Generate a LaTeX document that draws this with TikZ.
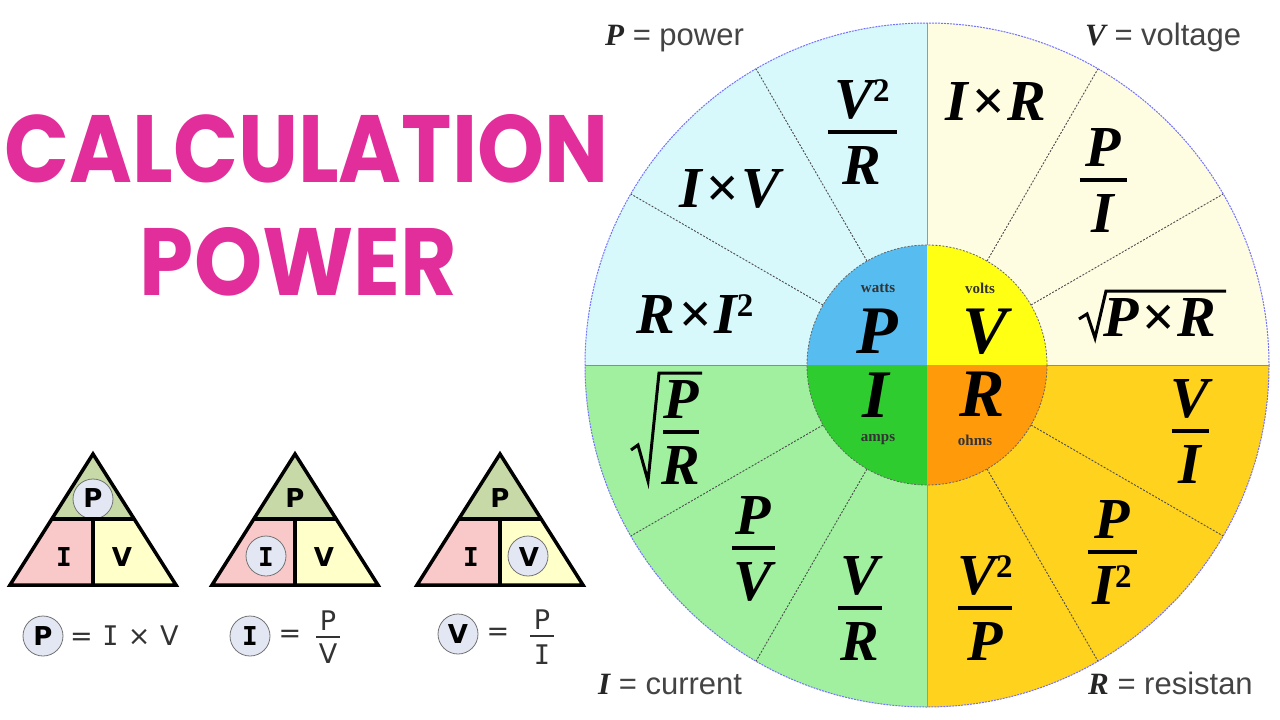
\documentclass[tikz,border=0pt]{standalone}
\usepackage{fontspec}
\usepackage{graphicx}
\setmainfont{Liberation Serif}
\newfontfamily\titlefont{Poppins}
\newfontfamily\labfont{Liberation Sans}
\newfontfamily\dvs{DejaVu Sans}
\newfontfamily\dvm{DejaVu Sans Mono}
\definecolor{titlec}{HTML}{E22E9B}
\definecolor{qP}{HTML}{D8F9FC}
\definecolor{qV}{HTML}{FFFDE1}
\definecolor{qI}{HTML}{A0F0A0}
\definecolor{qR}{HTML}{FFD21E}
\definecolor{cP}{HTML}{57BCEF}
\definecolor{cV}{HTML}{FFFF14}
\definecolor{cI}{HTML}{2ECC2E}
\definecolor{cR}{HTML}{FF9A0A}
\definecolor{tG}{HTML}{C6D9A6}
\definecolor{tPk}{HTML}{F9C9C9}
\definecolor{tY}{HTML}{FFFFC9}
\definecolor{hl}{HTML}{E3E7F3}
\definecolor{labg}{HTML}{444444}
\definecolor{eqg}{HTML}{333333}
\newcommand\sqr{\raisebox{17pt}{\fontsize{33}{33}\selectfont\upshape 2}}
\tikzset{
  fml/.style={inner sep=0pt, font=\fontsize{58}{60}\selectfont\bfseries\itshape},
  big/.style={inner sep=0pt, font=\fontsize{68}{68}\selectfont\bfseries\itshape},
  unitlab/.style={inner sep=0pt, font=\fontsize{15}{15}\selectfont\bfseries, text=black!80},
  fbar/.style={line width=3.5pt},
  radic/.style={line width=3pt, line join=miter},
  divline/.style={line width=0.9pt, black!70, dash pattern=on 2pt off 1.5pt},
  corner/.style={inner sep=0pt, anchor=base west, text=labg, font=\fontsize{31}{32}\labfont},
  tletter/.style={inner sep=0pt, font=\fontsize{26}{27}\dvs\bfseries},
  hlcircle/.style={fill=hl, draw=black!55, line width=0.8pt},
  eqtext/.style={inner sep=0pt, text=eqg, font=\fontsize{27}{28}\dvs},
}
\newcommand\frn[6]{%
  \node[fml,anchor=base] (#1n) at (#2,#3-14) {#5};
  \node[fml,anchor=base] (#1d) at (#2,#3+52) {#6};
  \draw[fbar] (#2-#4/2,#3) -- (#2+#4/2,#3);}
\begin{document}
\begin{tikzpicture}[x=1pt,y=-1pt]
\useasboundingbox (0,0) rectangle (1280,720);
\fill[white] (0,0) rectangle (1280,720);

% ---------- title
\node[inner sep=0pt, text=titlec] (t1) at (306.5,148.5)
  {\resizebox{603pt}{68pt}{\titlefont\bfseries CALCULATION}};
\node[inner sep=0pt, text=titlec] (t2) at (298.5,261.5)
  {\resizebox{317pt}{68pt}{\titlefont\bfseries POWER}};

% ---------- wheel
\coordinate (C) at (927,365);
\begin{scope}
  \clip (C) circle[radius=342];
  \fill[qP] (580,18) rectangle (927,365);
  \fill[qV] (927,18) rectangle (1275,365);
  \fill[qI] (580,365) rectangle (927,712);
  \fill[qR] (927,365) rectangle (1275,712);
\end{scope}
\foreach \a in {30,60,120,150,210,240,300,330}
  \draw[divline] ([shift={(\a:120)}]C) -- ([shift={(\a:342)}]C);
\draw[black!45, line width=0.7pt] (585,365) -- (1269,365);
\draw[black!40, line width=0.7pt] (927,23) -- (927,707);
\begin{scope}
  \clip (C) circle[radius=120];
  \fill[cP] (800,240) rectangle (927,365);
  \fill[cV] (927,240) rectangle (1055,365);
  \fill[cI] (800,365) rectangle (927,490);
  \fill[cR] (927,365) rectangle (1055,490);
\end{scope}
\draw[black!60, line width=0.8pt, dash pattern=on 2pt off 1.5pt] (C) circle[radius=120];
\draw[blue!55, line width=1pt, dash pattern=on 2pt off 1pt] (C) circle[radius=342];

% inner letters
\node[big,anchor=base] (iP) at (877,353) {P};
\node[big,anchor=base] (iV) at (985,353) {V};
\node[big,anchor=base] (iI) at (876,417) {I};
\node[big,anchor=base] (iR) at (982,416) {R};
\node[unitlab] (uP) at (878,288) {watts};
\node[unitlab] (uV) at (980,288) {volts};
\node[unitlab] (uI) at (878,440) {amps};
\node[unitlab] (uR) at (975,440) {ohms};

% P quadrant
\frn{pa}{862}{132}{69}{V\sqr}{R}
\node[fml,anchor=base] (pb) at (730,207) {I\kern3pt×\kern3pt V};
\node[fml,anchor=base] (pc) at (695,333) {R\kern3pt×\kern3pt I\sqr};
% V quadrant
\node[fml,anchor=base] (va) at (996,120) {I\kern3pt×\kern3pt R};
\frn{vb}{1103}{180}{47}{P}{I}
\node[fml,anchor=base] (vc) at (1160,336) {P\kern3pt×\kern3pt R};
\draw[radic] (1079,319) -- (1087,314) -- (1095,338) -- (1106,291) -- (1226,291);
% I quadrant
\frn{ia}{681}{432}{36}{P}{R}
\draw[radic] (631,450) -- (638,445) -- (648,481) -- (659,373) -- (702,373);
\frn{ib}{753}{548}{43}{P}{V}
\frn{ic}{860}{608}{44}{V}{R}
% R quadrant
\frn{ra}{1190}{431}{37}{V}{I}
\frn{rb}{1112}{552}{49}{P}{I\sqr}
\frn{rc}{985}{608}{54}{V\sqr}{P}

% corner labels
\node[corner] (lP) at (605,45) {{\fontsize{31}{32}\rmfamily\bfseries\itshape\color{black!85}P} = power};
\node[corner] (lV) at (1085,45) {{\fontsize{31}{32}\rmfamily\bfseries\itshape\color{black!85}V} = voltage};
\node[corner] (lI) at (598,694) {{\fontsize{31}{32}\rmfamily\bfseries\itshape\color{black!85}I} = current};
\node[corner] (lR) at (1088,694) {{\fontsize{31}{32}\rmfamily\bfseries\itshape\color{black!85}R} = resistan};

% ---------- triangles
\foreach \ax in {93,295,500}{
  \fill[tG] (\ax,454) -- (\ax-41.2,519) -- (\ax+41.2,519) -- cycle;
  \fill[tPk] (\ax-41.2,519) -- (\ax,519) -- (\ax,585) -- (\ax-83,585) -- cycle;
  \fill[tY] (\ax+41.2,519) -- (\ax,519) -- (\ax,585) -- (\ax+83,585) -- cycle;
}
\draw[hlcircle] (93,499) circle[radius=20];
\draw[hlcircle] (266,556) circle[radius=20];
\draw[hlcircle] (528,556) circle[radius=20];
\foreach \ax [count=\i] in {93,295,500}{
  \draw[line width=3.5pt] (\ax-41.2,519) -- (\ax+41.2,519);
  \draw[line width=3.5pt] (\ax,519) -- (\ax,585);
  \draw[line width=3.5pt] (\ax,454) -- (\ax+83,585) -- (\ax-83,585) -- cycle;
  \node[tletter] (tp\i) at (\ax,498) {P};
  \node[tletter] (ti\i) at (\ax-29,557) {\dvm\bfseries I};
  \node[tletter] (tv\i) at (\ax+29,557) {V};
}

% ---------- equations
\draw[hlcircle] (43,636) circle[radius=20];
\node[tletter] (e1c) at (43,636) {P};
\node[eqtext,anchor=west] (e1) at (70,636) {=\hspace{0.35em}{\dvm I}\hspace{0.35em}×\hspace{0.35em}V};

\draw[hlcircle] (250,636) circle[radius=20];
\node[tletter] (e2c) at (250,636) {\dvm\bfseries I};
\node[eqtext] (e2eq) at (290,636) {=};
\node[eqtext,anchor=base] (e2n) at (328,630) {P};
\node[eqtext,anchor=base] (e2d) at (328,663) {V};
\draw[eqg, line width=1.3pt] (316,637) -- (340,637);

\draw[hlcircle] (458,634) circle[radius=20];
\node[tletter] (e3c) at (458,634) {V};
\node[eqtext] (e3eq) at (498,634) {=};
\node[eqtext,anchor=base] (e3n) at (542,629) {P};
\node[eqtext,anchor=base] (e3d) at (542,664) {\dvm I};
\draw[eqg, line width=1.3pt] (530,636) -- (554,636);
\end{tikzpicture}
\end{document}
